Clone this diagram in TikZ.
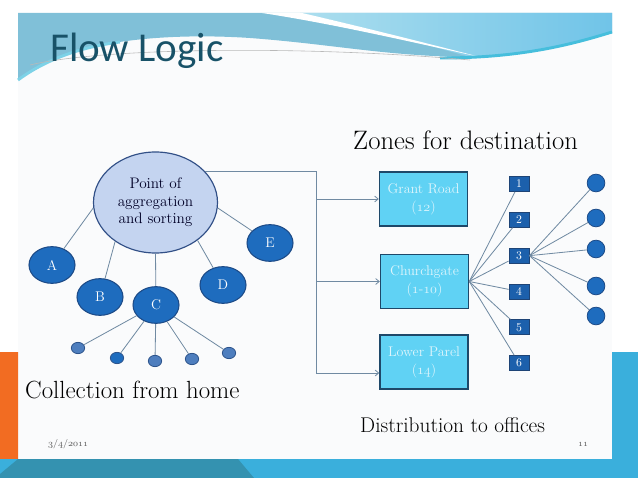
\documentclass[tikz,border=0pt]{standalone}
\usepackage{fontspec}
\newfontfamily\titlefont{Carlito}
\usetikzlibrary{arrows.meta, positioning, shapes.geometric}
\newcommand{\oldnum}[1]{{\usefont{OML}{cmm}{m}{it}#1}}

\definecolor{slidebg}{RGB}{250,251,252}
\definecolor{orangebar}{RGB}{242,108,34}
\definecolor{sidebar}{RGB}{58,175,220}
\definecolor{darkband}{RGB}{52,146,176}
\definecolor{headblue}{RGB}{128,192,216}
\definecolor{headlight}{RGB}{172,222,238}
\definecolor{headcyan}{RGB}{112,196,232}
\definecolor{headstrip}{RGB}{70,190,220}
\definecolor{titlec}{RGB}{24,82,104}
\definecolor{linkc}{RGB}{112,138,162}
\definecolor{aggfill}{RGB}{196,212,240}
\definecolor{aggborder}{RGB}{50,80,135}
\definecolor{letterfill}{RGB}{30,108,190}
\definecolor{letterborder}{RGB}{28,74,135}
\definecolor{dotfill}{RGB}{78,126,190}
\definecolor{dotborder}{RGB}{45,84,140}
\definecolor{zonefill}{RGB}{96,210,244}
\definecolor{zoneborder}{RGB}{30,72,105}
\definecolor{zonetext}{RGB}{222,245,252}
\definecolor{numfill}{RGB}{28,96,172}
\definecolor{numborder}{RGB}{30,68,118}

\begin{document}
\begin{tikzpicture}[x=0.03cm, y=-0.03cm,
                link/.style={draw=linkc, line width=0.7pt},
                arrowlink/.style={link, -{Straight Barb[length=3pt, width=5pt]}},
                aggnode/.style={ellipse, draw=aggborder, line width=1pt, fill=aggfill,
                                minimum width=3.72cm, minimum height=3.03cm, inner sep=0pt,
                                align=center, text=black!85!blue,
                                font=\fontsize{13}{15}\selectfont},
                letter/.style={ellipse, draw=letterborder, line width=0.9pt, fill=letterfill,
                               minimum width=1.38cm, minimum height=1.1cm, inner sep=0pt,
                               text=white, font=\fontsize{12}{13}\selectfont},
                homedot/.style={ellipse, draw=dotborder, line width=0.7pt, fill=dotfill,
                                minimum width=0.4cm, minimum height=0.34cm, inner sep=0pt},
                zone/.style={draw=zoneborder, line width=1.2pt, fill=zonefill,
                             minimum width=2.64cm, minimum height=1.62cm, align=center,
                             text=zonetext, font=\fontsize{12}{15.5}\selectfont},
                numbox/.style={draw=numborder, line width=0.7pt, fill=numfill,
                               minimum width=0.6cm, minimum height=0.45cm, inner sep=0pt,
                               text=white, font=\fontsize{10}{11}\selectfont},
                officedot/.style={circle, draw=letterborder, line width=0.7pt, fill=letterfill,
                                  minimum size=0.53cm, inner sep=0pt}]

                % Slide frame
                \useasboundingbox (0,0) rectangle (638,478);
                \fill[white] (0,0) rectangle (638,478);
                \fill[slidebg] (18,13) rectangle (612,459);
                \fill[orangebar] (0,352) -- (18,352) -- (18,459) -- (0,474) -- cycle;
                \fill[sidebar] (612,352) rectangle (638,459);
                \fill[sidebar] (0,459) rectangle (638,478);
                \fill[darkband] (0,474) -- (18,459) -- (238,459) -- (254,478) -- (0,478) -- cycle;

                % Header wave
                \fill[headblue] (18,13) -- (612,13) -- (612,33)
                    .. controls (560,48) and (510,58) .. (460,57)
                    .. controls (380,55) and (330,44) .. (250,38)
                    .. controls (160,32) and (60,42) .. (18,80) -- cycle;
                \shade[left color=headlight, right color=headcyan] (300,13)
                    .. controls (370,28) and (430,46) .. (470,57)
                    .. controls (520,57) and (570,45) .. (612,33) -- (612,13) -- cycle;
                \fill[white] (262,13) .. controls (335,24) and (420,44) .. (480,57)
                    .. controls (430,44) and (350,24) .. (302,13) -- cycle;
                \draw[headstrip, line width=2.5pt] (440,58) .. controls (520,58) and (570,45) .. (612,32);
                \draw[headstrip!70, line width=2.5pt] (18,80) .. controls (45,60) and (80,47) .. (120,42);
                \draw[gray!55, line width=0.5pt] (30,65) .. controls (100,48) and (300,45) .. (470,60);
                \node[anchor=base west, inner sep=0pt, text=titlec,
                      font=\titlefont\fontsize{35}{37}\selectfont] (title) at (50,62) {Flow Logic};

                % Collection - left side
                \node[aggnode] (agg) at (155.5,202.5) {Point of\\aggregation\\and sorting};
                \node[letter] (A) at (52,265) {A};
                \node[letter] (B) at (100,297) {B};
                \node[letter] (C) at (156,305) {C};
                \node[letter] (D) at (223,285) {D};
                \node[letter] (E) at (270,243) {E};

                \node[homedot] (h1) at (78,348) {};
                \node[homedot, fill=letterfill] (h2) at (117,358) {};
                \node[homedot] (h3) at (155,361) {};
                \node[homedot] (h4) at (192,359) {};
                \node[homedot] (h5) at (229,353) {};

                \draw[link] (agg.185) -- (A);
                \draw[link] (agg.224) -- (B);
                \draw[link] (agg.south) -- (C);
                \draw[link] (agg.318) -- (D);
                \draw[link] (agg.355) -- (E);
                \draw[link] (C) -- (h1);
                \draw[link] (C) -- (h2);
                \draw[link] (C) -- (h3);
                \draw[link] (C) -- (h4);
                \draw[link] (C) -- (h5);

                \node[anchor=base west, inner sep=0pt, font=\fontsize{21.2}{23}\selectfont]
                    (collect) at (25,398) {Collection from home};

                % Zones - middle
                \node[anchor=base west, inner sep=0pt, font=\fontsize{22.8}{25}\selectfont]
                    (zones) at (353,149) {Zones for destination};
                \node[zone] (grant) at (423.5,199) {Grant Road\\(\oldnum{12})};
                \node[zone] (church) at (424.5,281.5) {Churchgate\\(\oldnum{1}-\oldnum{10})};
                \node[zone] (lower) at (424,362) {Lower Parel\\(\oldnum{14})};

                \coordinate (bus) at (316,0);
                \draw[arrowlink] (agg.32) -- (agg.32 -| bus) |- ([yshift=-0.33cm]lower.west);
                \draw[arrowlink] (grant.west -| bus) -- (grant.west);
                \draw[arrowlink] (church.west -| bus) -- (church.west);

                % Offices - right side
                \node[numbox] (n1) at (519,184) {1};
                \node[numbox, below=0.6cm of n1] (n2) {2};
                \node[numbox, below=0.6cm of n2] (n3) {3};
                \node[numbox, below=0.6cm of n3] (n4) {4};
                \node[numbox, below=0.6cm of n4] (n5) {5};
                \node[numbox, below=0.6cm of n5] (n6) {6};

                \node[officedot] (o1) at (596,183) {};
                \node[officedot] (o2) at (596,218) {};
                \node[officedot] (o3) at (596,249) {};
                \node[officedot] (o4) at (596,286) {};
                \node[officedot] (o5) at (596,316) {};

                \draw[link] (church.east) -- (n1);
                \draw[link] (church.east) -- (n2);
                \draw[link] (church.east) -- (n3);
                \draw[link] (church.east) -- (n4);
                \draw[link] (church.east) -- (n5);
                \draw[link] (church.east) -- (n6);
                \draw[link] (n3.east) -- (o1);
                \draw[link] (n3.east) -- (o2);
                \draw[link] (n3.east) -- (o3);
                \draw[link] (n3.east) -- (o4);
                \draw[link] (n3.east) -- (o5);

                \node[anchor=base west, inner sep=0pt, font=\fontsize{18.2}{20}\selectfont]
                    (distrib) at (360,432) {Distribution to offices};

                % Footer
                \node[anchor=base west, inner sep=0pt, text=black!65, font=\fontsize{8}{9}\selectfont]
                    (date) at (48,446) {\oldnum{3}/\oldnum{4}/\oldnum{2011}};
                \node[anchor=base west, inner sep=0pt, text=black!65, font=\fontsize{8}{9}\selectfont]
                    (page) at (578,446) {\oldnum{11}};
            \end{tikzpicture}
\end{document}
